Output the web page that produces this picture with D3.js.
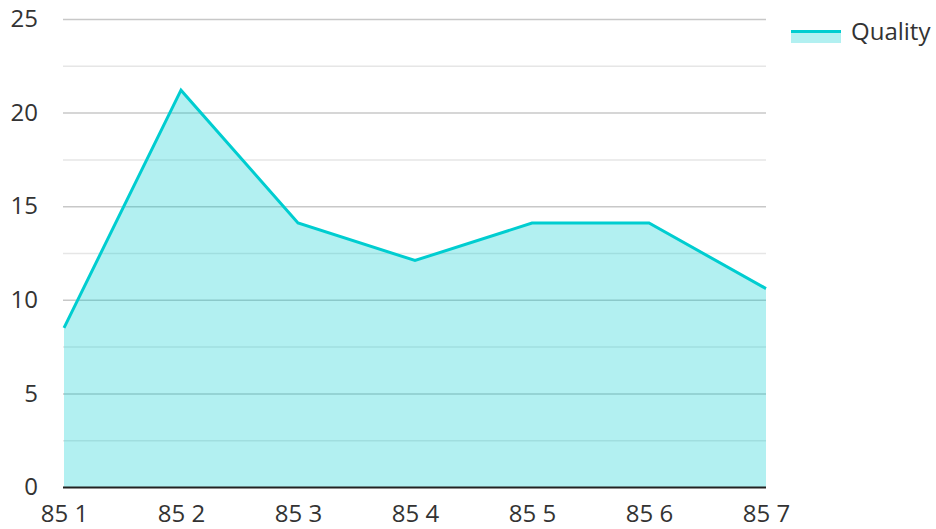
<!DOCTYPE html>
<html><head><meta charset="utf-8">
<script src="https://cdn.jsdelivr.net/npm/d3@7"></script>
<style>body{margin:0;background:#fff}svg{display:block;font-family:"Open Sans",sans-serif}</style>
</head><body><svg id="c" width="936" height="529"></svg>
<script>
const categories = ["85 1","85 2","85 3","85 4","85 5","85 6","85 7"];
const quality = [8.5, 21.2, 14.1, 12.1, 14.1, 14.1, 10.6];
const majorTicks = [0,5,10,15,20,25];
const minorTicks = [2.5,7.5,12.5,17.5,22.5];
const seriesName = "Quality";

(function(){
const svg = d3.select("#c");
const pL = 64, pR = 766, pT = 19, pB = 487;
const x = d3.scalePoint().domain(categories).range([pL, pR]);
const y = d3.scaleLinear().domain([0,25]).range([pB, pT]);
const lineColor = "#00cdd0";

const g = svg.append("g");
g.selectAll(".minor").data(minorTicks).enter().append("line")
  .attr("x1", pL-1).attr("x2", pR).attr("y1", d=>y(d)+0.5).attr("y2", d=>y(d)+0.5)
  .attr("stroke", "#e6e6e6").attr("stroke-width", 1.5);
g.selectAll(".major").data(majorTicks.filter(d=>d>0)).enter().append("line")
  .attr("x1", pL-1).attr("x2", pR).attr("y1", d=>y(d)+0.5).attr("y2", d=>y(d)+0.5)
  .attr("stroke", "#c8c8c8").attr("stroke-width", 1.5);

const area = d3.area().x((d,i)=>x(categories[i])).y0(y(0)).y1(d=>y(d));
g.append("path").datum(quality).attr("d", area).attr("fill", lineColor).attr("fill-opacity", 0.3);
const line = d3.line().x((d,i)=>x(categories[i])).y(d=>y(d));
g.append("path").datum(quality).attr("d", line).attr("fill","none")
  .attr("stroke", lineColor).attr("stroke-width", 3).attr("stroke-linejoin","miter");

g.append("line").attr("x1", pL-1).attr("x2", pR).attr("y1", pB+0.5).attr("y2", pB+0.5)
  .attr("stroke", "#222").attr("stroke-width", 2);

const yAxis = d3.axisLeft(y).tickValues(majorTicks).tickSize(0).tickPadding(0);
const ya = svg.append("g").attr("transform", `translate(38,0)`).call(yAxis);
ya.select(".domain").remove();
ya.selectAll("text").attr("font-size", 24).attr("fill", "#333").attr("font-family","Open Sans").attr("dy","0.32em");

const xAxis = d3.axisBottom(x).tickSize(0).tickPadding(0);
const xa = svg.append("g").attr("transform", `translate(0,${pB+18})`).call(xAxis);
xa.select(".domain").remove();
xa.selectAll("text").attr("font-size", 24).attr("fill", "#333").attr("font-family","Open Sans").attr("dy","0.71em");

const lg = svg.append("g");
lg.append("rect").attr("x", 791).attr("y", 31).attr("width", 50).attr("height", 12)
  .attr("fill", lineColor).attr("fill-opacity", 0.3);
lg.append("line").attr("x1", 791).attr("x2", 841).attr("y1", 31.5).attr("y2", 31.5)
  .attr("stroke", lineColor).attr("stroke-width", 3);
lg.append("text").attr("x", 851).attr("y", 32).attr("dy","0.35em").attr("font-size", 24)
  .attr("fill", "#333").text(seriesName);
})();
</script></body></html>
